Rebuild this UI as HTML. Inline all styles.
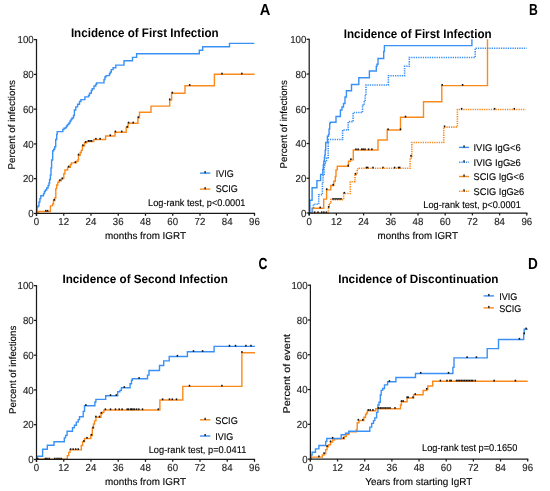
<!DOCTYPE html>
<html><head><meta charset="utf-8"><style>
html,body{margin:0;padding:0;background:#fff;}
svg{display:block;}
text{font-family:"Liberation Sans",sans-serif;text-rendering:geometricPrecision;}
</style></head><body>
<svg width="550" height="491" viewBox="0 0 550 491">
<rect width="550" height="491" fill="#fff"/>
<path d="M36.40,213.20H38.50V211.50H50.40V205.90H52.60V204.00H53.50V200.50H54.90V197.70H55.80V188.60H56.70V185.00H57.80V182.30H59.00V180.90H61.30V179.10H62.70V178.20H63.80V173.80H64.90V170.00H67.60V167.30H70.40V164.50H71.50V162.90H76.40V161.30H78.00V159.60H78.50V155.30H80.20V152.50H81.30V150.40H82.40V146.00H84.50V142.70H86.70V141.60H93.80V139.50H105.60V136.00H115.00V132.20H126.20V127.50H128.10V123.30H137.90V117.90H139.50V112.20H151.00V106.10H169.70V100.10H171.60V93.30H185.00V85.70H214.40V74.30H254.50" fill="none" stroke="#fb8a1d" stroke-width="1.4" stroke-linejoin="miter"/>
<path d="M36.40,213.20H37.00V206.80H38.10V205.90H39.00V202.00H39.90V198.60H40.80V195.70H43.50V193.60H44.40V191.50H45.40V190.00H46.70V188.00H48.10V185.50H49.00V183.00H49.60V179.50H50.40V175.00H51.00V168.00H51.60V160.00H52.70V150.70H53.70V149.20H54.70V146.70H55.70V139.50H56.70V134.40H57.20V131.60H62.80V129.50H64.00V128.30H65.50V127.50H66.50V126.00H67.50V124.50H68.90V123.00H70.00V121.00H71.00V119.50H72.00V118.00H73.50V115.50H74.40V110.00H75.80V106.90H77.60V104.20H79.50V101.50H80.90V99.60H84.90V96.90H88.50V95.50H89.50V93.30H91.30V90.50H92.20V88.70H94.00V86.00H95.80V84.20H96.70V82.90H104.00V79.60H104.90V77.00H106.00V75.60H109.50V73.50H110.40V72.00H111.30V69.60H113.10V67.80H115.80V65.10H124.00V60.80H132.50V57.40H136.60V53.80H199.30V50.30H202.70V46.80H229.50V43.40H254.30" fill="none" stroke="#3a91f5" stroke-width="1.4" stroke-linejoin="miter"/>
<rect x="45.05" y="209.90" width="1.5" height="1.75" fill="#111"/>
<rect x="46.85" y="209.90" width="1.5" height="1.75" fill="#111"/>
<rect x="53.45" y="198.90" width="1.5" height="1.75" fill="#111"/>
<rect x="59.15" y="179.30" width="1.5" height="1.75" fill="#111"/>
<rect x="61.45" y="177.50" width="1.5" height="1.75" fill="#111"/>
<rect x="67.95" y="165.70" width="1.5" height="1.75" fill="#111"/>
<rect x="74.55" y="161.30" width="1.5" height="1.75" fill="#111"/>
<rect x="77.75" y="153.70" width="1.5" height="1.75" fill="#111"/>
<rect x="82.15" y="144.40" width="1.5" height="1.75" fill="#111"/>
<rect x="84.85" y="141.10" width="1.5" height="1.75" fill="#111"/>
<rect x="87.65" y="140.00" width="1.5" height="1.75" fill="#111"/>
<rect x="89.25" y="140.00" width="1.5" height="1.75" fill="#111"/>
<rect x="90.85" y="140.00" width="1.5" height="1.75" fill="#111"/>
<rect x="95.15" y="137.90" width="1.5" height="1.75" fill="#111"/>
<rect x="99.35" y="137.90" width="1.5" height="1.75" fill="#111"/>
<rect x="109.55" y="134.40" width="1.5" height="1.75" fill="#111"/>
<rect x="114.65" y="130.60" width="1.5" height="1.75" fill="#111"/>
<rect x="120.95" y="130.60" width="1.5" height="1.75" fill="#111"/>
<rect x="126.45" y="125.90" width="1.5" height="1.75" fill="#111"/>
<rect x="127.85" y="121.70" width="1.5" height="1.75" fill="#111"/>
<rect x="132.45" y="121.70" width="1.5" height="1.75" fill="#111"/>
<rect x="137.55" y="116.30" width="1.5" height="1.75" fill="#111"/>
<rect x="168.95" y="98.50" width="1.5" height="1.75" fill="#111"/>
<rect x="171.55" y="91.70" width="1.5" height="1.75" fill="#111"/>
<rect x="188.95" y="84.10" width="1.5" height="1.75" fill="#111"/>
<rect x="221.25" y="72.70" width="1.5" height="1.75" fill="#111"/>
<rect x="241.05" y="72.70" width="1.5" height="1.75" fill="#111"/>
<path d="M309.20,213.00H328.40V207.60H329.00V204.90H330.10V202.00H330.80V199.60H343.60V193.50H350.30V181.70H355.00V174.50H357.20V169.90H357.80V168.30H410.10V158.00H411.20V156.10H411.80V142.50H443.70V127.10H457.40V109.50H525.70" fill="none" stroke="#fb8a1d" stroke-width="1.6" stroke-linejoin="miter" stroke-dasharray="1.3,1.0"/>
<path d="M309.20,213.00H312.10V208.20H323.70V199.10H326.60V189.90H330.80V185.50H333.80V181.30H335.30V176.50H336.00V169.90H337.30V166.30H348.50V161.30H350.50V159.90H353.30V150.00H378.00V140.00H387.20V130.00H400.50V117.30H423.50V101.80H441.80V85.60H487.50V39.30H487.50" fill="none" stroke="#fb8a1d" stroke-width="1.4" stroke-linejoin="miter"/>
<path d="M309.20,213.00H312.50V209.00H313.40V204.20H318.70V194.70H322.40V184.00H323.00V175.70H324.20V165.50H325.00V162.00H326.50V158.40H328.20V142.10H328.50V139.50H342.60V130.00H348.20V121.60H353.10V112.50H362.50V105.20H364.30V101.80H365.20V95.00H366.00V85.00H388.40V75.70H404.60V66.30H409.30V57.50H475.20V48.20H526.70" fill="none" stroke="#3a91f5" stroke-width="1.6" stroke-linejoin="miter" stroke-dasharray="1.3,1.0"/>
<path d="M309.20,213.00H309.90V200.20H312.10V187.70H316.90V180.60H320.60V174.40H322.80V169.50H323.30V165.00H323.80V161.30H324.40V157.40H324.80V154.90H325.20V150.30H325.70V142.50H327.40V136.20H328.50V134.40H329.10V129.00H329.70V123.40H330.30V122.20H336.00V116.50H340.40V110.00H342.00V107.00H343.50V103.50H345.00V97.00H346.40V90.70H351.50V84.50H358.80V77.80H369.40V71.00H376.30V66.30H377.00V64.20H378.00V58.50H383.70V51.50H384.40V45.60H471.90V39.30H471.90" fill="none" stroke="#3a91f5" stroke-width="1.4" stroke-linejoin="miter"/>
<rect x="313.95" y="211.40" width="1.5" height="1.75" fill="#111"/>
<rect x="317.25" y="211.40" width="1.5" height="1.75" fill="#111"/>
<rect x="320.95" y="211.40" width="1.5" height="1.75" fill="#111"/>
<rect x="323.15" y="211.40" width="1.5" height="1.75" fill="#111"/>
<rect x="325.65" y="211.40" width="1.5" height="1.75" fill="#111"/>
<rect x="327.85" y="206.00" width="1.5" height="1.75" fill="#111"/>
<rect x="332.25" y="198.00" width="1.5" height="1.75" fill="#111"/>
<rect x="334.25" y="198.00" width="1.5" height="1.75" fill="#111"/>
<rect x="336.25" y="198.00" width="1.5" height="1.75" fill="#111"/>
<rect x="338.25" y="198.00" width="1.5" height="1.75" fill="#111"/>
<rect x="340.25" y="198.00" width="1.5" height="1.75" fill="#111"/>
<rect x="343.55" y="191.90" width="1.5" height="1.75" fill="#111"/>
<rect x="354.65" y="172.90" width="1.5" height="1.75" fill="#111"/>
<rect x="365.65" y="166.70" width="1.5" height="1.75" fill="#111"/>
<rect x="366.95" y="166.70" width="1.5" height="1.75" fill="#111"/>
<rect x="372.25" y="166.70" width="1.5" height="1.75" fill="#111"/>
<rect x="382.25" y="166.70" width="1.5" height="1.75" fill="#111"/>
<rect x="393.85" y="166.70" width="1.5" height="1.75" fill="#111"/>
<rect x="397.75" y="166.70" width="1.5" height="1.75" fill="#111"/>
<rect x="398.95" y="166.70" width="1.5" height="1.75" fill="#111"/>
<rect x="410.25" y="154.90" width="1.5" height="1.75" fill="#111"/>
<rect x="443.75" y="125.50" width="1.5" height="1.75" fill="#111"/>
<rect x="460.85" y="107.90" width="1.5" height="1.75" fill="#111"/>
<rect x="493.85" y="107.90" width="1.5" height="1.75" fill="#111"/>
<rect x="513.55" y="107.90" width="1.5" height="1.75" fill="#111"/>
<rect x="319.45" y="206.60" width="1.5" height="1.75" fill="#111"/>
<rect x="325.95" y="188.30" width="1.5" height="1.75" fill="#111"/>
<rect x="332.45" y="183.90" width="1.5" height="1.75" fill="#111"/>
<rect x="347.45" y="164.70" width="1.5" height="1.75" fill="#111"/>
<rect x="350.15" y="158.30" width="1.5" height="1.75" fill="#111"/>
<rect x="355.15" y="148.40" width="1.5" height="1.75" fill="#111"/>
<rect x="357.35" y="148.40" width="1.5" height="1.75" fill="#111"/>
<rect x="360.95" y="148.40" width="1.5" height="1.75" fill="#111"/>
<rect x="362.45" y="148.40" width="1.5" height="1.75" fill="#111"/>
<rect x="364.25" y="148.40" width="1.5" height="1.75" fill="#111"/>
<rect x="367.85" y="148.40" width="1.5" height="1.75" fill="#111"/>
<rect x="371.15" y="148.40" width="1.5" height="1.75" fill="#111"/>
<rect x="387.35" y="128.40" width="1.5" height="1.75" fill="#111"/>
<rect x="399.75" y="128.40" width="1.5" height="1.75" fill="#111"/>
<rect x="404.75" y="115.70" width="1.5" height="1.75" fill="#111"/>
<rect x="441.45" y="84.00" width="1.5" height="1.75" fill="#111"/>
<rect x="461.85" y="84.00" width="1.5" height="1.75" fill="#111"/>
<path d="M36.50,459.30H67.30V455.60H68.70V452.40H70.00V449.90H81.30V445.50H82.60V441.70H84.50V438.50H90.80V435.50H92.30V428.20H93.50V424.00H94.50V420.90H95.90V417.30H101.00V413.50H102.50V412.20H103.90V410.00H159.90V400.00H182.80V386.40H241.90V352.70H255.00" fill="none" stroke="#fb8a1d" stroke-width="1.4" stroke-linejoin="miter"/>
<path d="M36.50,459.30H36.80V456.20H42.60V449.20H47.30V445.20H54.00V441.70H64.30V437.90H65.60V435.40H67.10V431.20H72.50V427.80H74.40V425.30H76.30V422.10H78.20V419.60H79.50V416.70H83.20V411.40H84.50V405.80H94.90V402.00H95.90V399.40H105.70V395.80H117.70V391.80H119.90V390.40H121.40V387.80H130.10V383.80H131.50V380.20H132.30V378.70H147.50V375.10H149.00V370.50H159.50V365.50H163.70V360.90H169.20V356.50H187.40V351.80H214.10V346.40H255.00" fill="none" stroke="#3a91f5" stroke-width="1.4" stroke-linejoin="miter"/>
<rect x="37.05" y="457.70" width="1.5" height="1.75" fill="#111"/>
<rect x="44.65" y="457.70" width="1.5" height="1.75" fill="#111"/>
<rect x="46.25" y="457.70" width="1.5" height="1.75" fill="#111"/>
<rect x="48.45" y="457.70" width="1.5" height="1.75" fill="#111"/>
<rect x="54.05" y="457.70" width="1.5" height="1.75" fill="#111"/>
<rect x="56.25" y="457.70" width="1.5" height="1.75" fill="#111"/>
<rect x="58.25" y="457.70" width="1.5" height="1.75" fill="#111"/>
<rect x="60.35" y="457.70" width="1.5" height="1.75" fill="#111"/>
<rect x="69.85" y="448.30" width="1.5" height="1.75" fill="#111"/>
<rect x="72.45" y="448.30" width="1.5" height="1.75" fill="#111"/>
<rect x="74.95" y="448.30" width="1.5" height="1.75" fill="#111"/>
<rect x="77.45" y="448.30" width="1.5" height="1.75" fill="#111"/>
<rect x="83.15" y="440.10" width="1.5" height="1.75" fill="#111"/>
<rect x="86.25" y="436.90" width="1.5" height="1.75" fill="#111"/>
<rect x="90.65" y="433.90" width="1.5" height="1.75" fill="#111"/>
<rect x="92.25" y="426.60" width="1.5" height="1.75" fill="#111"/>
<rect x="95.15" y="415.70" width="1.5" height="1.75" fill="#111"/>
<rect x="98.75" y="415.70" width="1.5" height="1.75" fill="#111"/>
<rect x="100.55" y="411.90" width="1.5" height="1.75" fill="#111"/>
<rect x="104.65" y="408.40" width="1.5" height="1.75" fill="#111"/>
<rect x="109.75" y="408.40" width="1.5" height="1.75" fill="#111"/>
<rect x="114.75" y="408.40" width="1.5" height="1.75" fill="#111"/>
<rect x="118.45" y="408.40" width="1.5" height="1.75" fill="#111"/>
<rect x="121.35" y="408.40" width="1.5" height="1.75" fill="#111"/>
<rect x="126.45" y="408.40" width="1.5" height="1.75" fill="#111"/>
<rect x="127.85" y="408.40" width="1.5" height="1.75" fill="#111"/>
<rect x="130.05" y="408.40" width="1.5" height="1.75" fill="#111"/>
<rect x="130.75" y="408.40" width="1.5" height="1.75" fill="#111"/>
<rect x="132.25" y="408.40" width="1.5" height="1.75" fill="#111"/>
<rect x="133.75" y="408.40" width="1.5" height="1.75" fill="#111"/>
<rect x="135.85" y="408.40" width="1.5" height="1.75" fill="#111"/>
<rect x="138.05" y="408.40" width="1.5" height="1.75" fill="#111"/>
<rect x="141.75" y="408.40" width="1.5" height="1.75" fill="#111"/>
<rect x="157.55" y="408.40" width="1.5" height="1.75" fill="#111"/>
<rect x="161.85" y="398.40" width="1.5" height="1.75" fill="#111"/>
<rect x="168.75" y="398.40" width="1.5" height="1.75" fill="#111"/>
<rect x="171.55" y="398.40" width="1.5" height="1.75" fill="#111"/>
<rect x="175.75" y="398.40" width="1.5" height="1.75" fill="#111"/>
<rect x="188.75" y="384.80" width="1.5" height="1.75" fill="#111"/>
<rect x="221.15" y="384.80" width="1.5" height="1.75" fill="#111"/>
<rect x="241.15" y="351.10" width="1.5" height="1.75" fill="#111"/>
<rect x="85.05" y="404.20" width="1.5" height="1.75" fill="#111"/>
<rect x="109.75" y="394.20" width="1.5" height="1.75" fill="#111"/>
<rect x="115.55" y="394.20" width="1.5" height="1.75" fill="#111"/>
<rect x="123.55" y="386.20" width="1.5" height="1.75" fill="#111"/>
<rect x="138.35" y="377.10" width="1.5" height="1.75" fill="#111"/>
<rect x="176.65" y="354.90" width="1.5" height="1.75" fill="#111"/>
<rect x="192.75" y="350.20" width="1.5" height="1.75" fill="#111"/>
<rect x="201.85" y="350.20" width="1.5" height="1.75" fill="#111"/>
<rect x="228.75" y="344.80" width="1.5" height="1.75" fill="#111"/>
<rect x="234.75" y="344.80" width="1.5" height="1.75" fill="#111"/>
<rect x="245.15" y="344.80" width="1.5" height="1.75" fill="#111"/>
<rect x="250.25" y="344.80" width="1.5" height="1.75" fill="#111"/>
<path d="M310.30,459.10H311.40V457.10H322.30V455.00H324.10V453.90H325.70V449.60H327.10V446.80H328.50V444.80H330.50V442.10H332.60V440.00H334.60V438.70H344.20V436.60H346.20V434.60H348.90V431.70H356.40V429.80H357.20V422.80H359.00V420.50H363.90V417.30H365.50V414.50H366.50V413.00H367.40V410.70H375.70V408.70H400.50V405.00H401.40V401.80H407.10V398.00H413.60V394.80H423.10V390.50H426.70V389.50H427.80V386.00H432.70V381.30H527.70" fill="none" stroke="#fb8a1d" stroke-width="1.4" stroke-linejoin="miter"/>
<path d="M310.30,459.10H311.00V455.00H312.10V452.30H315.50V448.90H318.90V445.50H325.70V441.40H326.80V438.50H341.20V434.80H345.50V433.20H348.70V431.20H369.80V427.10H371.70V423.40H373.50V420.60H374.80V417.90H376.60V412.40H377.90V405.00H379.00V402.30H380.30V395.00H381.20V390.40H382.70V388.50H384.50V384.90H387.60V381.80H395.90V377.50H415.50V373.50H452.90V367.40H454.00V357.90H487.20V348.60H498.50V339.50H523.70V334.00H524.20V329.20H527.70" fill="none" stroke="#3a91f5" stroke-width="1.4" stroke-linejoin="miter"/>
<rect x="318.15" y="455.50" width="1.5" height="1.75" fill="#111"/>
<rect x="323.35" y="452.30" width="1.5" height="1.75" fill="#111"/>
<rect x="326.35" y="445.20" width="1.5" height="1.75" fill="#111"/>
<rect x="329.75" y="440.50" width="1.5" height="1.75" fill="#111"/>
<rect x="342.75" y="437.10" width="1.5" height="1.75" fill="#111"/>
<rect x="357.55" y="418.90" width="1.5" height="1.75" fill="#111"/>
<rect x="362.05" y="418.90" width="1.5" height="1.75" fill="#111"/>
<rect x="367.55" y="409.10" width="1.5" height="1.75" fill="#111"/>
<rect x="369.45" y="409.10" width="1.5" height="1.75" fill="#111"/>
<rect x="372.15" y="409.10" width="1.5" height="1.75" fill="#111"/>
<rect x="377.65" y="407.10" width="1.5" height="1.75" fill="#111"/>
<rect x="379.45" y="407.10" width="1.5" height="1.75" fill="#111"/>
<rect x="381.25" y="407.10" width="1.5" height="1.75" fill="#111"/>
<rect x="383.25" y="407.10" width="1.5" height="1.75" fill="#111"/>
<rect x="385.15" y="407.10" width="1.5" height="1.75" fill="#111"/>
<rect x="387.25" y="407.10" width="1.5" height="1.75" fill="#111"/>
<rect x="389.25" y="407.10" width="1.5" height="1.75" fill="#111"/>
<rect x="394.25" y="407.10" width="1.5" height="1.75" fill="#111"/>
<rect x="400.75" y="400.20" width="1.5" height="1.75" fill="#111"/>
<rect x="402.45" y="400.20" width="1.5" height="1.75" fill="#111"/>
<rect x="406.35" y="396.40" width="1.5" height="1.75" fill="#111"/>
<rect x="407.45" y="396.40" width="1.5" height="1.75" fill="#111"/>
<rect x="412.25" y="396.40" width="1.5" height="1.75" fill="#111"/>
<rect x="414.55" y="393.20" width="1.5" height="1.75" fill="#111"/>
<rect x="425.95" y="387.90" width="1.5" height="1.75" fill="#111"/>
<rect x="439.65" y="379.70" width="1.5" height="1.75" fill="#111"/>
<rect x="446.25" y="379.70" width="1.5" height="1.75" fill="#111"/>
<rect x="449.15" y="379.70" width="1.5" height="1.75" fill="#111"/>
<rect x="450.45" y="379.70" width="1.5" height="1.75" fill="#111"/>
<rect x="455.75" y="379.70" width="1.5" height="1.75" fill="#111"/>
<rect x="457.35" y="379.70" width="1.5" height="1.75" fill="#111"/>
<rect x="458.95" y="379.70" width="1.5" height="1.75" fill="#111"/>
<rect x="460.65" y="379.70" width="1.5" height="1.75" fill="#111"/>
<rect x="462.25" y="379.70" width="1.5" height="1.75" fill="#111"/>
<rect x="463.85" y="379.70" width="1.5" height="1.75" fill="#111"/>
<rect x="465.55" y="379.70" width="1.5" height="1.75" fill="#111"/>
<rect x="467.15" y="379.70" width="1.5" height="1.75" fill="#111"/>
<rect x="468.75" y="379.70" width="1.5" height="1.75" fill="#111"/>
<rect x="470.45" y="379.70" width="1.5" height="1.75" fill="#111"/>
<rect x="472.05" y="379.70" width="1.5" height="1.75" fill="#111"/>
<rect x="474.55" y="379.70" width="1.5" height="1.75" fill="#111"/>
<rect x="493.35" y="379.70" width="1.5" height="1.75" fill="#111"/>
<rect x="514.65" y="379.70" width="1.5" height="1.75" fill="#111"/>
<rect x="331.85" y="436.90" width="1.5" height="1.75" fill="#111"/>
<rect x="388.65" y="380.20" width="1.5" height="1.75" fill="#111"/>
<rect x="419.95" y="371.90" width="1.5" height="1.75" fill="#111"/>
<rect x="447.75" y="371.90" width="1.5" height="1.75" fill="#111"/>
<rect x="466.35" y="356.30" width="1.5" height="1.75" fill="#111"/>
<rect x="475.65" y="356.30" width="1.5" height="1.75" fill="#111"/>
<rect x="518.65" y="337.90" width="1.5" height="1.75" fill="#111"/>
<rect x="523.45" y="332.40" width="1.5" height="1.75" fill="#111"/>
<rect x="525.35" y="327.60" width="1.5" height="1.75" fill="#111"/>
<g style="will-change:transform">
<line x1="36.50" y1="39.05" x2="36.50" y2="215.85" stroke="#1a1a1a" stroke-width="1.25"/>
<line x1="35.88" y1="213.45" x2="255.10" y2="213.45" stroke="#1a1a1a" stroke-width="1.25"/>
<line x1="33.90" y1="213.45" x2="36.50" y2="213.45" stroke="#1a1a1a" stroke-width="1.25"/>
<text x="33.70" y="217.25" font-size="10.2" text-anchor="end" textLength="5.39" lengthAdjust="spacingAndGlyphs" fill="#1e1e1e" stroke="#1e1e1e" stroke-width="0.15">0</text>
<line x1="33.90" y1="178.69" x2="36.50" y2="178.69" stroke="#1a1a1a" stroke-width="1.25"/>
<text x="33.70" y="182.49" font-size="10.2" text-anchor="end" textLength="10.78" lengthAdjust="spacingAndGlyphs" fill="#1e1e1e" stroke="#1e1e1e" stroke-width="0.15">20</text>
<line x1="33.90" y1="143.93" x2="36.50" y2="143.93" stroke="#1a1a1a" stroke-width="1.25"/>
<text x="33.70" y="147.73" font-size="10.2" text-anchor="end" textLength="10.78" lengthAdjust="spacingAndGlyphs" fill="#1e1e1e" stroke="#1e1e1e" stroke-width="0.15">40</text>
<line x1="33.90" y1="109.17" x2="36.50" y2="109.17" stroke="#1a1a1a" stroke-width="1.25"/>
<text x="33.70" y="112.97" font-size="10.2" text-anchor="end" textLength="10.78" lengthAdjust="spacingAndGlyphs" fill="#1e1e1e" stroke="#1e1e1e" stroke-width="0.15">60</text>
<line x1="33.90" y1="74.41" x2="36.50" y2="74.41" stroke="#1a1a1a" stroke-width="1.25"/>
<text x="33.70" y="78.21" font-size="10.2" text-anchor="end" textLength="10.78" lengthAdjust="spacingAndGlyphs" fill="#1e1e1e" stroke="#1e1e1e" stroke-width="0.15">80</text>
<line x1="33.90" y1="39.65" x2="36.50" y2="39.65" stroke="#1a1a1a" stroke-width="1.25"/>
<text x="33.70" y="43.45" font-size="10.2" text-anchor="end" textLength="16.17" lengthAdjust="spacingAndGlyphs" fill="#1e1e1e" stroke="#1e1e1e" stroke-width="0.15">100</text>
<line x1="36.50" y1="213.45" x2="36.50" y2="215.85" stroke="#1a1a1a" stroke-width="1.25"/>
<text x="36.50" y="225.25" font-size="10.2" text-anchor="middle" textLength="5.39" lengthAdjust="spacingAndGlyphs" fill="#1e1e1e" stroke="#1e1e1e" stroke-width="0.15">0</text>
<line x1="63.75" y1="213.45" x2="63.75" y2="215.85" stroke="#1a1a1a" stroke-width="1.25"/>
<text x="63.75" y="225.25" font-size="10.2" text-anchor="middle" textLength="10.78" lengthAdjust="spacingAndGlyphs" fill="#1e1e1e" stroke="#1e1e1e" stroke-width="0.15">12</text>
<line x1="91.00" y1="213.45" x2="91.00" y2="215.85" stroke="#1a1a1a" stroke-width="1.25"/>
<text x="91.00" y="225.25" font-size="10.2" text-anchor="middle" textLength="10.78" lengthAdjust="spacingAndGlyphs" fill="#1e1e1e" stroke="#1e1e1e" stroke-width="0.15">24</text>
<line x1="118.25" y1="213.45" x2="118.25" y2="215.85" stroke="#1a1a1a" stroke-width="1.25"/>
<text x="118.25" y="225.25" font-size="10.2" text-anchor="middle" textLength="10.78" lengthAdjust="spacingAndGlyphs" fill="#1e1e1e" stroke="#1e1e1e" stroke-width="0.15">36</text>
<line x1="145.50" y1="213.45" x2="145.50" y2="215.85" stroke="#1a1a1a" stroke-width="1.25"/>
<text x="145.50" y="225.25" font-size="10.2" text-anchor="middle" textLength="10.78" lengthAdjust="spacingAndGlyphs" fill="#1e1e1e" stroke="#1e1e1e" stroke-width="0.15">48</text>
<line x1="172.75" y1="213.45" x2="172.75" y2="215.85" stroke="#1a1a1a" stroke-width="1.25"/>
<text x="172.75" y="225.25" font-size="10.2" text-anchor="middle" textLength="10.78" lengthAdjust="spacingAndGlyphs" fill="#1e1e1e" stroke="#1e1e1e" stroke-width="0.15">60</text>
<line x1="200.00" y1="213.45" x2="200.00" y2="215.85" stroke="#1a1a1a" stroke-width="1.25"/>
<text x="200.00" y="225.25" font-size="10.2" text-anchor="middle" textLength="10.78" lengthAdjust="spacingAndGlyphs" fill="#1e1e1e" stroke="#1e1e1e" stroke-width="0.15">72</text>
<line x1="227.25" y1="213.45" x2="227.25" y2="215.85" stroke="#1a1a1a" stroke-width="1.25"/>
<text x="227.25" y="225.25" font-size="10.2" text-anchor="middle" textLength="10.78" lengthAdjust="spacingAndGlyphs" fill="#1e1e1e" stroke="#1e1e1e" stroke-width="0.15">84</text>
<line x1="254.50" y1="213.45" x2="254.50" y2="215.85" stroke="#1a1a1a" stroke-width="1.25"/>
<text x="254.50" y="225.25" font-size="10.2" text-anchor="middle" textLength="10.78" lengthAdjust="spacingAndGlyphs" fill="#1e1e1e" stroke="#1e1e1e" stroke-width="0.15">96</text>
<line x1="309.20" y1="38.70" x2="309.20" y2="215.40" stroke="#1a1a1a" stroke-width="1.25"/>
<line x1="308.58" y1="213.00" x2="527.40" y2="213.00" stroke="#1a1a1a" stroke-width="1.25"/>
<line x1="306.60" y1="213.00" x2="309.20" y2="213.00" stroke="#1a1a1a" stroke-width="1.25"/>
<text x="306.40" y="216.80" font-size="10.2" text-anchor="end" textLength="5.39" lengthAdjust="spacingAndGlyphs" fill="#1e1e1e" stroke="#1e1e1e" stroke-width="0.15">0</text>
<line x1="306.60" y1="178.26" x2="309.20" y2="178.26" stroke="#1a1a1a" stroke-width="1.25"/>
<text x="306.40" y="182.06" font-size="10.2" text-anchor="end" textLength="10.78" lengthAdjust="spacingAndGlyphs" fill="#1e1e1e" stroke="#1e1e1e" stroke-width="0.15">20</text>
<line x1="306.60" y1="143.52" x2="309.20" y2="143.52" stroke="#1a1a1a" stroke-width="1.25"/>
<text x="306.40" y="147.32" font-size="10.2" text-anchor="end" textLength="10.78" lengthAdjust="spacingAndGlyphs" fill="#1e1e1e" stroke="#1e1e1e" stroke-width="0.15">40</text>
<line x1="306.60" y1="108.78" x2="309.20" y2="108.78" stroke="#1a1a1a" stroke-width="1.25"/>
<text x="306.40" y="112.58" font-size="10.2" text-anchor="end" textLength="10.78" lengthAdjust="spacingAndGlyphs" fill="#1e1e1e" stroke="#1e1e1e" stroke-width="0.15">60</text>
<line x1="306.60" y1="74.04" x2="309.20" y2="74.04" stroke="#1a1a1a" stroke-width="1.25"/>
<text x="306.40" y="77.84" font-size="10.2" text-anchor="end" textLength="10.78" lengthAdjust="spacingAndGlyphs" fill="#1e1e1e" stroke="#1e1e1e" stroke-width="0.15">80</text>
<line x1="306.60" y1="39.30" x2="309.20" y2="39.30" stroke="#1a1a1a" stroke-width="1.25"/>
<text x="306.40" y="43.10" font-size="10.2" text-anchor="end" textLength="16.17" lengthAdjust="spacingAndGlyphs" fill="#1e1e1e" stroke="#1e1e1e" stroke-width="0.15">100</text>
<line x1="309.20" y1="213.00" x2="309.20" y2="215.40" stroke="#1a1a1a" stroke-width="1.25"/>
<text x="309.20" y="224.80" font-size="10.2" text-anchor="middle" textLength="5.39" lengthAdjust="spacingAndGlyphs" fill="#1e1e1e" stroke="#1e1e1e" stroke-width="0.15">0</text>
<line x1="336.40" y1="213.00" x2="336.40" y2="215.40" stroke="#1a1a1a" stroke-width="1.25"/>
<text x="336.40" y="224.80" font-size="10.2" text-anchor="middle" textLength="10.78" lengthAdjust="spacingAndGlyphs" fill="#1e1e1e" stroke="#1e1e1e" stroke-width="0.15">12</text>
<line x1="363.60" y1="213.00" x2="363.60" y2="215.40" stroke="#1a1a1a" stroke-width="1.25"/>
<text x="363.60" y="224.80" font-size="10.2" text-anchor="middle" textLength="10.78" lengthAdjust="spacingAndGlyphs" fill="#1e1e1e" stroke="#1e1e1e" stroke-width="0.15">24</text>
<line x1="390.80" y1="213.00" x2="390.80" y2="215.40" stroke="#1a1a1a" stroke-width="1.25"/>
<text x="390.80" y="224.80" font-size="10.2" text-anchor="middle" textLength="10.78" lengthAdjust="spacingAndGlyphs" fill="#1e1e1e" stroke="#1e1e1e" stroke-width="0.15">36</text>
<line x1="418.00" y1="213.00" x2="418.00" y2="215.40" stroke="#1a1a1a" stroke-width="1.25"/>
<text x="418.00" y="224.80" font-size="10.2" text-anchor="middle" textLength="10.78" lengthAdjust="spacingAndGlyphs" fill="#1e1e1e" stroke="#1e1e1e" stroke-width="0.15">48</text>
<line x1="445.20" y1="213.00" x2="445.20" y2="215.40" stroke="#1a1a1a" stroke-width="1.25"/>
<text x="445.20" y="224.80" font-size="10.2" text-anchor="middle" textLength="10.78" lengthAdjust="spacingAndGlyphs" fill="#1e1e1e" stroke="#1e1e1e" stroke-width="0.15">60</text>
<line x1="472.40" y1="213.00" x2="472.40" y2="215.40" stroke="#1a1a1a" stroke-width="1.25"/>
<text x="472.40" y="224.80" font-size="10.2" text-anchor="middle" textLength="10.78" lengthAdjust="spacingAndGlyphs" fill="#1e1e1e" stroke="#1e1e1e" stroke-width="0.15">72</text>
<line x1="499.60" y1="213.00" x2="499.60" y2="215.40" stroke="#1a1a1a" stroke-width="1.25"/>
<text x="499.60" y="224.80" font-size="10.2" text-anchor="middle" textLength="10.78" lengthAdjust="spacingAndGlyphs" fill="#1e1e1e" stroke="#1e1e1e" stroke-width="0.15">84</text>
<line x1="526.80" y1="213.00" x2="526.80" y2="215.40" stroke="#1a1a1a" stroke-width="1.25"/>
<text x="526.80" y="224.80" font-size="10.2" text-anchor="middle" textLength="10.78" lengthAdjust="spacingAndGlyphs" fill="#1e1e1e" stroke="#1e1e1e" stroke-width="0.15">96</text>
<line x1="36.50" y1="285.05" x2="36.50" y2="461.85" stroke="#1a1a1a" stroke-width="1.25"/>
<line x1="35.88" y1="459.45" x2="255.10" y2="459.45" stroke="#1a1a1a" stroke-width="1.25"/>
<line x1="33.90" y1="459.45" x2="36.50" y2="459.45" stroke="#1a1a1a" stroke-width="1.25"/>
<text x="33.70" y="463.25" font-size="10.2" text-anchor="end" textLength="5.39" lengthAdjust="spacingAndGlyphs" fill="#1e1e1e" stroke="#1e1e1e" stroke-width="0.15">0</text>
<line x1="33.90" y1="424.69" x2="36.50" y2="424.69" stroke="#1a1a1a" stroke-width="1.25"/>
<text x="33.70" y="428.49" font-size="10.2" text-anchor="end" textLength="10.78" lengthAdjust="spacingAndGlyphs" fill="#1e1e1e" stroke="#1e1e1e" stroke-width="0.15">20</text>
<line x1="33.90" y1="389.93" x2="36.50" y2="389.93" stroke="#1a1a1a" stroke-width="1.25"/>
<text x="33.70" y="393.73" font-size="10.2" text-anchor="end" textLength="10.78" lengthAdjust="spacingAndGlyphs" fill="#1e1e1e" stroke="#1e1e1e" stroke-width="0.15">40</text>
<line x1="33.90" y1="355.17" x2="36.50" y2="355.17" stroke="#1a1a1a" stroke-width="1.25"/>
<text x="33.70" y="358.97" font-size="10.2" text-anchor="end" textLength="10.78" lengthAdjust="spacingAndGlyphs" fill="#1e1e1e" stroke="#1e1e1e" stroke-width="0.15">60</text>
<line x1="33.90" y1="320.41" x2="36.50" y2="320.41" stroke="#1a1a1a" stroke-width="1.25"/>
<text x="33.70" y="324.21" font-size="10.2" text-anchor="end" textLength="10.78" lengthAdjust="spacingAndGlyphs" fill="#1e1e1e" stroke="#1e1e1e" stroke-width="0.15">80</text>
<line x1="33.90" y1="285.65" x2="36.50" y2="285.65" stroke="#1a1a1a" stroke-width="1.25"/>
<text x="33.70" y="289.45" font-size="10.2" text-anchor="end" textLength="16.17" lengthAdjust="spacingAndGlyphs" fill="#1e1e1e" stroke="#1e1e1e" stroke-width="0.15">100</text>
<line x1="36.50" y1="459.45" x2="36.50" y2="461.85" stroke="#1a1a1a" stroke-width="1.25"/>
<text x="36.50" y="471.25" font-size="10.2" text-anchor="middle" textLength="5.39" lengthAdjust="spacingAndGlyphs" fill="#1e1e1e" stroke="#1e1e1e" stroke-width="0.15">0</text>
<line x1="63.75" y1="459.45" x2="63.75" y2="461.85" stroke="#1a1a1a" stroke-width="1.25"/>
<text x="63.75" y="471.25" font-size="10.2" text-anchor="middle" textLength="10.78" lengthAdjust="spacingAndGlyphs" fill="#1e1e1e" stroke="#1e1e1e" stroke-width="0.15">12</text>
<line x1="91.00" y1="459.45" x2="91.00" y2="461.85" stroke="#1a1a1a" stroke-width="1.25"/>
<text x="91.00" y="471.25" font-size="10.2" text-anchor="middle" textLength="10.78" lengthAdjust="spacingAndGlyphs" fill="#1e1e1e" stroke="#1e1e1e" stroke-width="0.15">24</text>
<line x1="118.25" y1="459.45" x2="118.25" y2="461.85" stroke="#1a1a1a" stroke-width="1.25"/>
<text x="118.25" y="471.25" font-size="10.2" text-anchor="middle" textLength="10.78" lengthAdjust="spacingAndGlyphs" fill="#1e1e1e" stroke="#1e1e1e" stroke-width="0.15">36</text>
<line x1="145.50" y1="459.45" x2="145.50" y2="461.85" stroke="#1a1a1a" stroke-width="1.25"/>
<text x="145.50" y="471.25" font-size="10.2" text-anchor="middle" textLength="10.78" lengthAdjust="spacingAndGlyphs" fill="#1e1e1e" stroke="#1e1e1e" stroke-width="0.15">48</text>
<line x1="172.75" y1="459.45" x2="172.75" y2="461.85" stroke="#1a1a1a" stroke-width="1.25"/>
<text x="172.75" y="471.25" font-size="10.2" text-anchor="middle" textLength="10.78" lengthAdjust="spacingAndGlyphs" fill="#1e1e1e" stroke="#1e1e1e" stroke-width="0.15">60</text>
<line x1="200.00" y1="459.45" x2="200.00" y2="461.85" stroke="#1a1a1a" stroke-width="1.25"/>
<text x="200.00" y="471.25" font-size="10.2" text-anchor="middle" textLength="10.78" lengthAdjust="spacingAndGlyphs" fill="#1e1e1e" stroke="#1e1e1e" stroke-width="0.15">72</text>
<line x1="227.25" y1="459.45" x2="227.25" y2="461.85" stroke="#1a1a1a" stroke-width="1.25"/>
<text x="227.25" y="471.25" font-size="10.2" text-anchor="middle" textLength="10.78" lengthAdjust="spacingAndGlyphs" fill="#1e1e1e" stroke="#1e1e1e" stroke-width="0.15">84</text>
<line x1="254.50" y1="459.45" x2="254.50" y2="461.85" stroke="#1a1a1a" stroke-width="1.25"/>
<text x="254.50" y="471.25" font-size="10.2" text-anchor="middle" textLength="10.78" lengthAdjust="spacingAndGlyphs" fill="#1e1e1e" stroke="#1e1e1e" stroke-width="0.15">96</text>
<line x1="310.40" y1="284.60" x2="310.40" y2="461.50" stroke="#1a1a1a" stroke-width="1.25"/>
<line x1="309.78" y1="459.10" x2="528.30" y2="459.10" stroke="#1a1a1a" stroke-width="1.25"/>
<line x1="307.80" y1="459.10" x2="310.40" y2="459.10" stroke="#1a1a1a" stroke-width="1.25"/>
<text x="307.60" y="462.90" font-size="10.2" text-anchor="end" textLength="5.39" lengthAdjust="spacingAndGlyphs" fill="#1e1e1e" stroke="#1e1e1e" stroke-width="0.15">0</text>
<line x1="307.80" y1="424.32" x2="310.40" y2="424.32" stroke="#1a1a1a" stroke-width="1.25"/>
<text x="307.60" y="428.12" font-size="10.2" text-anchor="end" textLength="10.78" lengthAdjust="spacingAndGlyphs" fill="#1e1e1e" stroke="#1e1e1e" stroke-width="0.15">20</text>
<line x1="307.80" y1="389.54" x2="310.40" y2="389.54" stroke="#1a1a1a" stroke-width="1.25"/>
<text x="307.60" y="393.34" font-size="10.2" text-anchor="end" textLength="10.78" lengthAdjust="spacingAndGlyphs" fill="#1e1e1e" stroke="#1e1e1e" stroke-width="0.15">40</text>
<line x1="307.80" y1="354.76" x2="310.40" y2="354.76" stroke="#1a1a1a" stroke-width="1.25"/>
<text x="307.60" y="358.56" font-size="10.2" text-anchor="end" textLength="10.78" lengthAdjust="spacingAndGlyphs" fill="#1e1e1e" stroke="#1e1e1e" stroke-width="0.15">60</text>
<line x1="307.80" y1="319.98" x2="310.40" y2="319.98" stroke="#1a1a1a" stroke-width="1.25"/>
<text x="307.60" y="323.78" font-size="10.2" text-anchor="end" textLength="10.78" lengthAdjust="spacingAndGlyphs" fill="#1e1e1e" stroke="#1e1e1e" stroke-width="0.15">80</text>
<line x1="307.80" y1="285.20" x2="310.40" y2="285.20" stroke="#1a1a1a" stroke-width="1.25"/>
<text x="307.60" y="289.00" font-size="10.2" text-anchor="end" textLength="16.17" lengthAdjust="spacingAndGlyphs" fill="#1e1e1e" stroke="#1e1e1e" stroke-width="0.15">100</text>
<line x1="310.40" y1="459.10" x2="310.40" y2="461.50" stroke="#1a1a1a" stroke-width="1.25"/>
<text x="310.40" y="470.90" font-size="10.2" text-anchor="middle" textLength="5.39" lengthAdjust="spacingAndGlyphs" fill="#1e1e1e" stroke="#1e1e1e" stroke-width="0.15">0</text>
<line x1="337.56" y1="459.10" x2="337.56" y2="461.50" stroke="#1a1a1a" stroke-width="1.25"/>
<text x="337.56" y="470.90" font-size="10.2" text-anchor="middle" textLength="10.78" lengthAdjust="spacingAndGlyphs" fill="#1e1e1e" stroke="#1e1e1e" stroke-width="0.15">12</text>
<line x1="364.72" y1="459.10" x2="364.72" y2="461.50" stroke="#1a1a1a" stroke-width="1.25"/>
<text x="364.72" y="470.90" font-size="10.2" text-anchor="middle" textLength="10.78" lengthAdjust="spacingAndGlyphs" fill="#1e1e1e" stroke="#1e1e1e" stroke-width="0.15">24</text>
<line x1="391.89" y1="459.10" x2="391.89" y2="461.50" stroke="#1a1a1a" stroke-width="1.25"/>
<text x="391.89" y="470.90" font-size="10.2" text-anchor="middle" textLength="10.78" lengthAdjust="spacingAndGlyphs" fill="#1e1e1e" stroke="#1e1e1e" stroke-width="0.15">36</text>
<line x1="419.05" y1="459.10" x2="419.05" y2="461.50" stroke="#1a1a1a" stroke-width="1.25"/>
<text x="419.05" y="470.90" font-size="10.2" text-anchor="middle" textLength="10.78" lengthAdjust="spacingAndGlyphs" fill="#1e1e1e" stroke="#1e1e1e" stroke-width="0.15">48</text>
<line x1="446.21" y1="459.10" x2="446.21" y2="461.50" stroke="#1a1a1a" stroke-width="1.25"/>
<text x="446.21" y="470.90" font-size="10.2" text-anchor="middle" textLength="10.78" lengthAdjust="spacingAndGlyphs" fill="#1e1e1e" stroke="#1e1e1e" stroke-width="0.15">60</text>
<line x1="473.38" y1="459.10" x2="473.38" y2="461.50" stroke="#1a1a1a" stroke-width="1.25"/>
<text x="473.38" y="470.90" font-size="10.2" text-anchor="middle" textLength="10.78" lengthAdjust="spacingAndGlyphs" fill="#1e1e1e" stroke="#1e1e1e" stroke-width="0.15">72</text>
<line x1="500.54" y1="459.10" x2="500.54" y2="461.50" stroke="#1a1a1a" stroke-width="1.25"/>
<text x="500.54" y="470.90" font-size="10.2" text-anchor="middle" textLength="10.78" lengthAdjust="spacingAndGlyphs" fill="#1e1e1e" stroke="#1e1e1e" stroke-width="0.15">84</text>
<line x1="527.70" y1="459.10" x2="527.70" y2="461.50" stroke="#1a1a1a" stroke-width="1.25"/>
<text x="527.70" y="470.90" font-size="10.2" text-anchor="middle" textLength="10.78" lengthAdjust="spacingAndGlyphs" fill="#1e1e1e" stroke="#1e1e1e" stroke-width="0.15">96</text>
<text x="259.80" y="14.90" font-size="16" textLength="10.60" lengthAdjust="spacingAndGlyphs" font-weight="bold" fill="#000">A</text>
<text x="529.10" y="15.00" font-size="16" textLength="8.80" lengthAdjust="spacingAndGlyphs" font-weight="bold" fill="#000">B</text>
<text x="258.60" y="268.60" font-size="16" textLength="8.90" lengthAdjust="spacingAndGlyphs" font-weight="bold" fill="#000">C</text>
<text x="528.00" y="269.00" font-size="16" textLength="9.80" lengthAdjust="spacingAndGlyphs" font-weight="bold" fill="#000">D</text>
<text x="70.90" y="37.05" font-size="12.4" textLength="147.70" lengthAdjust="spacingAndGlyphs" font-weight="bold" fill="#000">Incidence of First Infection</text>
<text x="343.70" y="37.85" font-size="12.4" textLength="148.00" lengthAdjust="spacingAndGlyphs" font-weight="bold" fill="#000">Incidence of First Infection</text>
<text x="62.50" y="282.60" font-size="12.0" textLength="165.29" lengthAdjust="spacingAndGlyphs" font-weight="bold" fill="#000">Incidence of Second Infection</text>
<text x="338.20" y="282.80" font-size="12.0" textLength="160.29" lengthAdjust="spacingAndGlyphs" font-weight="bold" fill="#000">Incidence of Discontinuation</text>
<text transform="rotate(-90)" x="-169.60" y="15.00" font-size="9.8" textLength="89.50" lengthAdjust="spacingAndGlyphs" fill="#000" stroke="#000" stroke-width="0.12">Percent of infections</text>
<text transform="rotate(-90)" x="-168.50" y="287.30" font-size="9.8" textLength="88.40" lengthAdjust="spacingAndGlyphs" fill="#000" stroke="#000" stroke-width="0.12">Percent of infections</text>
<text transform="rotate(-90)" x="-414.00" y="15.50" font-size="9.8" textLength="88.30" lengthAdjust="spacingAndGlyphs" fill="#000" stroke="#000" stroke-width="0.12">Percent of infections</text>
<text transform="rotate(-90)" x="-413.50" y="289.50" font-size="9.8" textLength="79.50" lengthAdjust="spacingAndGlyphs" fill="#000" stroke="#000" stroke-width="0.12">Percent of event</text>
<text x="105.00" y="239.00" font-size="10" textLength="81.00" lengthAdjust="spacingAndGlyphs" fill="#000" stroke="#000" stroke-width="0.12">months from IGRT</text>
<text x="377.60" y="239.00" font-size="10" textLength="80.40" lengthAdjust="spacingAndGlyphs" fill="#000" stroke="#000" stroke-width="0.12">months from IGRT</text>
<text x="105.00" y="485.00" font-size="10" textLength="81.00" lengthAdjust="spacingAndGlyphs" fill="#000" stroke="#000" stroke-width="0.12">months from IGRT</text>
<text x="365.30" y="484.50" font-size="10" textLength="107.00" lengthAdjust="spacingAndGlyphs" fill="#000" stroke="#000" stroke-width="0.12">Years from starting IgRT</text>
<text x="148.10" y="205.90" font-size="9.8" textLength="97.30" lengthAdjust="spacingAndGlyphs" fill="#000" stroke="#000" stroke-width="0.12">Log-rank test, p&lt;0.0001</text>
<text x="423.30" y="207.90" font-size="9.8" textLength="97.50" lengthAdjust="spacingAndGlyphs" fill="#000" stroke="#000" stroke-width="0.12">Log-rank test, p&lt;0.0001</text>
<text x="148.70" y="452.60" font-size="9.8" textLength="97.60" lengthAdjust="spacingAndGlyphs" fill="#000" stroke="#000" stroke-width="0.12">Log-rank test, p=0.0411</text>
<text x="422.00" y="451.40" font-size="9.8" textLength="95.40" lengthAdjust="spacingAndGlyphs" fill="#000" stroke="#000" stroke-width="0.12">Log-rank test p=0.1650</text>
<line x1="200.00" y1="173.10" x2="210.30" y2="173.10" stroke="#3a91f5" stroke-width="1.4"/>
<rect x="204.40" y="171.10" width="1.5" height="2.2" fill="#2a2a2a"/>
<text x="215.70" y="176.80" font-size="9.8" textLength="18.10" lengthAdjust="spacingAndGlyphs" fill="#000" stroke="#000" stroke-width="0.12">IVIG</text>
<line x1="200.00" y1="189.10" x2="210.30" y2="189.10" stroke="#fb8a1d" stroke-width="1.4"/>
<rect x="204.40" y="187.10" width="1.5" height="2.2" fill="#2a2a2a"/>
<text x="215.70" y="192.20" font-size="9.8" textLength="22.10" lengthAdjust="spacingAndGlyphs" fill="#000" stroke="#000" stroke-width="0.12">SCIG</text>
<line x1="459.10" y1="147.40" x2="469.00" y2="147.40" stroke="#3a91f5" stroke-width="1.4"/>
<rect x="463.30" y="145.40" width="1.5" height="2.2" fill="#2a2a2a"/>
<text x="473.50" y="151.40" font-size="9.8" textLength="47.30" lengthAdjust="spacingAndGlyphs" fill="#000" stroke="#000" stroke-width="0.12">IVIG IgG&lt;6</text>
<line x1="459.10" y1="162.30" x2="469.00" y2="162.30" stroke="#3a91f5" stroke-width="1.6" stroke-dasharray="1.3,1.0"/>
<rect x="463.30" y="160.30" width="1.5" height="2.2" fill="#2a2a2a"/>
<text x="473.50" y="166.00" font-size="9.8" textLength="47.30" lengthAdjust="spacingAndGlyphs" fill="#000" stroke="#000" stroke-width="0.12">IVIG IgG≥6</text>
<line x1="459.10" y1="176.50" x2="469.00" y2="176.50" stroke="#fb8a1d" stroke-width="1.4"/>
<rect x="463.30" y="174.50" width="1.5" height="2.2" fill="#2a2a2a"/>
<text x="473.50" y="180.20" font-size="9.8" textLength="50.60" lengthAdjust="spacingAndGlyphs" fill="#000" stroke="#000" stroke-width="0.12">SCIG IgG&lt;6</text>
<line x1="459.10" y1="191.30" x2="469.00" y2="191.30" stroke="#fb8a1d" stroke-width="1.6" stroke-dasharray="1.3,1.0"/>
<rect x="463.30" y="189.30" width="1.5" height="2.2" fill="#2a2a2a"/>
<text x="473.50" y="195.00" font-size="9.8" textLength="50.60" lengthAdjust="spacingAndGlyphs" fill="#000" stroke="#000" stroke-width="0.12">SCIG IgG≥6</text>
<line x1="200.00" y1="419.80" x2="210.30" y2="419.80" stroke="#fb8a1d" stroke-width="1.4"/>
<rect x="204.40" y="417.80" width="1.5" height="2.2" fill="#2a2a2a"/>
<text x="215.30" y="423.50" font-size="9.8" textLength="22.50" lengthAdjust="spacingAndGlyphs" fill="#000" stroke="#000" stroke-width="0.12">SCIG</text>
<line x1="200.00" y1="436.00" x2="210.30" y2="436.00" stroke="#3a91f5" stroke-width="1.4"/>
<rect x="204.40" y="434.00" width="1.5" height="2.2" fill="#2a2a2a"/>
<text x="215.30" y="439.50" font-size="9.8" textLength="18.10" lengthAdjust="spacingAndGlyphs" fill="#000" stroke="#000" stroke-width="0.12">IVIG</text>
<line x1="483.60" y1="295.90" x2="494.00" y2="295.90" stroke="#3a91f5" stroke-width="1.4"/>
<rect x="488.05" y="293.90" width="1.5" height="2.2" fill="#2a2a2a"/>
<text x="499.20" y="299.50" font-size="9.8" textLength="18.30" lengthAdjust="spacingAndGlyphs" fill="#000" stroke="#000" stroke-width="0.12">IVIG</text>
<line x1="483.60" y1="307.90" x2="494.00" y2="307.90" stroke="#fb8a1d" stroke-width="1.4"/>
<rect x="488.05" y="305.90" width="1.5" height="2.2" fill="#2a2a2a"/>
<text x="499.20" y="311.50" font-size="9.8" textLength="22.10" lengthAdjust="spacingAndGlyphs" fill="#000" stroke="#000" stroke-width="0.12">SCIG</text>
</g>
</svg>
</body></html>
